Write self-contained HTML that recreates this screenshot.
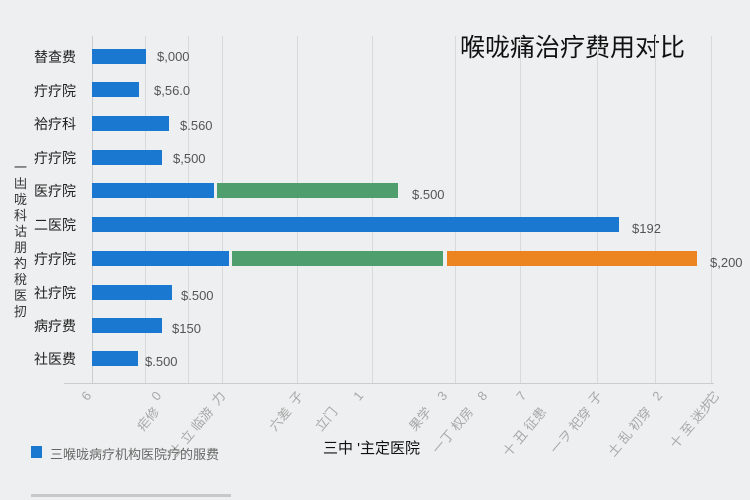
<!DOCTYPE html>
<html><head><meta charset="utf-8"><style>
body{margin:0;width:750px;height:500px;background:#eeeff0;font-family:"Liberation Sans","Noto Sans CJK SC",sans-serif;position:relative;overflow:hidden}
.a{position:absolute}
.bar{position:absolute;height:15px}
.b{background:#1b78d0}.g{background:#4f9f6e}.o{background:#ec8420}
.cat{position:absolute;left:20px;width:56px;text-align:right;font-size:14px;color:#222}
.val{position:absolute;font-size:13px;color:#555}
.grid{position:absolute;top:36px;height:347px;width:1px;background:#d8d9db}
svg{position:absolute;left:0;top:0}
</style></head><body>
<div class="a" style="left:460px;top:28px;font-size:25px;color:#111">喉咙痛治疗费用对比</div>
<div class="grid" style="left:92px;background:#ccc"></div>
<div class="grid" style="left:145px"></div><div class="grid" style="left:188px"></div><div class="grid" style="left:222px"></div>
<div class="grid" style="left:297px"></div><div class="grid" style="left:372px"></div><div class="grid" style="left:455px"></div>
<div class="grid" style="left:520px"></div><div class="grid" style="left:597px"></div><div class="grid" style="left:655px"></div><div class="grid" style="left:711px"></div>
<div class="a" style="left:64px;top:383px;width:650px;height:1px;background:#ccc"></div>
<div class="a" style="left:14px;top:160px;width:14px;font-size:13px;line-height:16px;color:#333">一凷咙科诂朋礿稅医扨</div>
<div class="cat" style="top:47px">替查费</div><div class="bar b" style="left:92px;top:49px;width:54px"></div><div class="val" style="left:157px;top:49px">$,000</div>
<div class="cat" style="top:81px">疔疗院</div><div class="bar b" style="left:92px;top:82px;width:47px"></div><div class="val" style="left:154px;top:83px">$,56.0</div>
<div class="cat" style="top:114px">祫疗科</div><div class="bar b" style="left:92px;top:116px;width:77px"></div><div class="val" style="left:180px;top:118px">$.560</div>
<div class="cat" style="top:148px">疔疗院</div><div class="bar b" style="left:92px;top:150px;width:70px"></div><div class="val" style="left:173px;top:151px">$,500</div>
<div class="cat" style="top:181px">医疗院</div><div class="bar b" style="left:92px;top:183px;width:122px"></div><div class="bar g" style="left:217px;top:183px;width:181px"></div><div class="val" style="left:412px;top:187px">$.500</div>
<div class="cat" style="top:215px">二医院</div><div class="bar b" style="left:92px;top:217px;width:527px"></div><div class="val" style="left:632px;top:221px">$192</div>
<div class="cat" style="top:249px">疔疗院</div><div class="bar b" style="left:92px;top:251px;width:137px"></div><div class="bar g" style="left:232px;top:251px;width:211px"></div><div class="bar o" style="left:447px;top:251px;width:250px"></div><div class="val" style="left:710px;top:255px">$,200</div>
<div class="cat" style="top:283px">社疗院</div><div class="bar b" style="left:92px;top:285px;width:80px"></div><div class="val" style="left:181px;top:288px">$.500</div>
<div class="cat" style="top:316px">病疗费</div><div class="bar b" style="left:92px;top:318px;width:70px"></div><div class="val" style="left:172px;top:321px">$150</div>
<div class="cat" style="top:349px">社医费</div><div class="bar b" style="left:92px;top:351px;width:46px"></div><div class="val" style="left:145px;top:354px">$.500</div>
<svg width="750" height="500" font-family="Liberation Sans, Noto Sans CJK SC, sans-serif" font-size="13" fill="#a8a8a8" text-anchor="end">
<g transform="translate(92,396) rotate(-50)"><text>6</text></g>
<g transform="translate(162,396) rotate(-50)"><text>0</text></g>
<g transform="translate(226,396) rotate(-50)"><text>力</text></g>
<g transform="translate(304,396) rotate(-50)"><text>子</text></g>
<g transform="translate(364,396) rotate(-50)"><text>1</text></g>
<g transform="translate(448,396) rotate(-50)"><text>3</text></g>
<g transform="translate(488,396) rotate(-50)"><text>8</text></g>
<g transform="translate(527,396) rotate(-50)"><text>7</text></g>
<g transform="translate(603,396) rotate(-50)"><text>子</text></g>
<g transform="translate(663,396) rotate(-50)"><text>2</text></g>
<g transform="translate(720,396) rotate(-50)"><text>它</text></g>
<g transform="translate(160,412) rotate(-50)"><text>疟修</text></g>
<g transform="translate(214,412) rotate(-50)"><text>土 立 临游</text></g>
<g transform="translate(292,412) rotate(-50)"><text>六差</text></g>
<g transform="translate(338,412) rotate(-50)"><text>立门</text></g>
<g transform="translate(432,412) rotate(-50)"><text>果学</text></g>
<g transform="translate(474,412) rotate(-50)"><text>一丁 权房</text></g>
<g transform="translate(547,412) rotate(-50)"><text>十 丑 征患</text></g>
<g transform="translate(592,412) rotate(-50)"><text>一ヲ 祀穿</text></g>
<g transform="translate(652,412) rotate(-50)"><text>土 乱 初穿</text></g>
<g transform="translate(714,404) rotate(-50)"><text>十 至 迷步</text></g>
</svg>
<div class="a" style="left:323px;top:437px;font-size:15px;color:#111">三中 '主定医院</div>
<div class="a" style="left:31px;top:446px;width:11px;height:12px;background:#1b78d0"></div>
<div class="a" style="left:50px;top:444px;font-size:13px;color:#666">三喉咙病疗机构医院疗的服费</div>
<div class="a" style="left:31px;top:494px;width:200px;height:3px;background:#c8c8c8"></div>
</body></html>
